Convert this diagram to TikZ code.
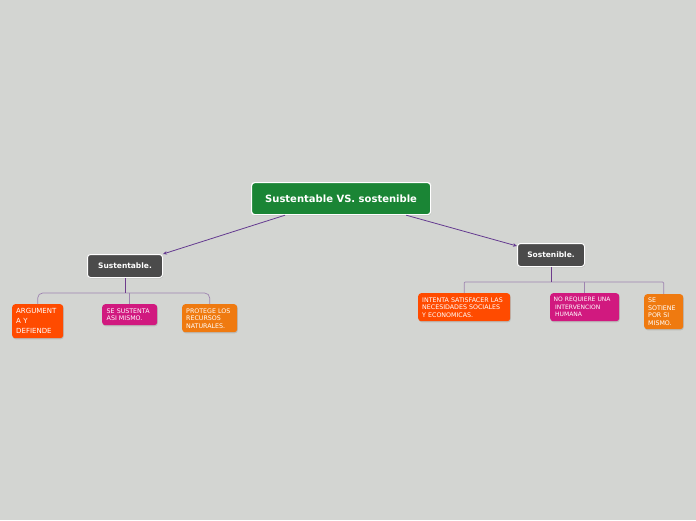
\documentclass[tikz,border=0pt]{standalone}
\usepackage{fontspec}
\setmainfont{DejaVu Sans}
\usetikzlibrary{shadows,arrows.meta}
\definecolor{bg}{HTML}{D3D5D2}
\definecolor{maingreen}{HTML}{1A8535}
\definecolor{darkbox}{HTML}{4B4B4B}
\definecolor{redor}{HTML}{FF4B00}
\definecolor{magen}{HTML}{D1197F}
\definecolor{oran}{HTML}{EF7A10}
\definecolor{stemc}{HTML}{6E3C8C}
\definecolor{barc}{HTML}{9E84B0}
\definecolor{arrowc}{HTML}{643A90}
\tikzset{
  basebox/.style={anchor=north west, rounded corners=3pt, inner sep=0pt, text=white,
    drop shadow={shadow xshift=0.6pt, shadow yshift=-1.1pt, opacity=0.3}},
  mainbox/.style={basebox, fill=maingreen, draw=white, line width=1.2pt,
    font=\fontsize{10}{12}\selectfont\bfseries},
  subbox/.style={basebox, fill=darkbox, draw=white, line width=1pt,
    font=\fontsize{7.5}{9}\selectfont\bfseries},
  leafbox/.style={basebox, align=left, font=\fontsize{6.3}{7.5}\selectfont},
  link/.style={arrowc, line width=0.8pt, -{Stealth[length=4pt,width=3.5pt]}},
  stem/.style={stemc, line width=0.9pt},
  bar/.style={barc, line width=0.7pt},
}
\begin{document}
\begin{tikzpicture}[x=1pt,y=-1pt]
\fill[bg] (0,0) rectangle (696,520);
\useasboundingbox (0,0) rectangle (696,520);

\node[mainbox, minimum width=179pt, minimum height=32pt] (main) at (251,182) {Sustentable VS. sostenible};
\node[subbox, minimum width=75pt, minimum height=23pt] (sust) at (87,254) {Sustentable.};
\node[subbox, minimum width=67pt, minimum height=23pt] (sost) at (517,243) {Sostenible.};

% left leaves
\node[leafbox, fill=redor, minimum width=51pt, minimum height=34pt, text width=43pt, inner xsep=4pt,
  font=\fontsize{7}{10}\selectfont] (arg) at (12,304) {ARGUMENT\\A Y\\DEFIENDE};
\node[leafbox, fill=magen, minimum width=55pt, minimum height=21pt, text width=46pt, inner xsep=4.5pt] (ses) at (102,304) {SE SUSTENTA\\ASI MISMO.};
\node[leafbox, fill=oran, minimum width=55pt, minimum height=28pt, text width=47pt, inner xsep=4pt] (prot) at (182,304) {PROTEGE LOS\\RECURSOS\\NATURALES.};

% right leaves
\node[leafbox, fill=redor, minimum width=92pt, minimum height=28pt, text width=84pt, inner xsep=4pt] (int) at (418,293) {INTENTA SATISFACER LAS\\NECESIDADES SOCIALES\\Y ECONOMICAS.};
\node[leafbox, fill=magen, minimum width=69pt, minimum height=28pt, text width=62pt, inner xsep=3.5pt,
  font=\fontsize{6}{7.5}\selectfont] (noreq) at (550,293) {NO REQUIERE UNA\\\hspace*{1.5pt}INTERVENCION\\\hspace*{1.5pt}HUMANA};
\node[leafbox, fill=oran, minimum width=39pt, minimum height=35pt, text width=31pt, inner xsep=4pt] (sot) at (644,294) {SE\\SOTIENE\\POR SI\\MISMO.};

% main links
\draw[link] ([xshift=34pt]main.south west) -- (sust.north east);
\draw[link] ([xshift=-25pt]main.south east) -- ([yshift=-3pt]sost.north west);

% left tree
\coordinate (lbar) at (0,293);
\draw[bar, rounded corners=5pt] (arg.north) -- (arg.north |- lbar) -- (prot.north |- lbar) -- (prot.north);
\draw[bar] (ses.north) -- (ses.north |- lbar);
\draw[stem] (sust.south) -- (sust.south |- lbar);

% right tree
\coordinate (rbar) at (0,282);
\draw[bar, rounded corners=1pt] (int.north) -- (int.north |- rbar) -- (sot.north |- rbar) -- (sot.north);
\draw[bar] (noreq.north) -- (noreq.north |- rbar);
\draw[stem] (sost.south) -- (sost.south |- rbar);
\end{tikzpicture}
\end{document}
